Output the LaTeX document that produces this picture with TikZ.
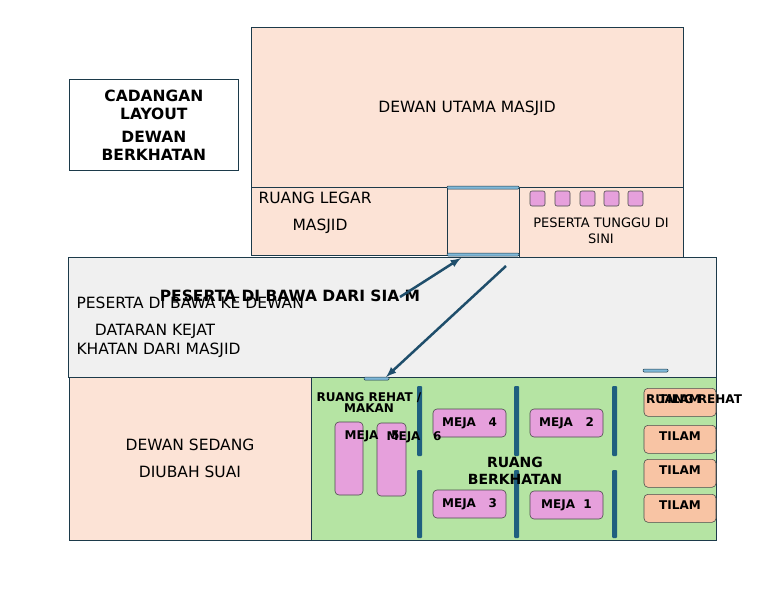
\documentclass[tikz,border=0pt]{standalone}
\usepackage{fontspec}
\setmainfont{DejaVu Sans}
\begin{document}
\begin{tikzpicture}[x=1pt,y=-1pt,
  room/.style={draw=dkb,line width=0.7pt},
  door/.style={draw=dkb,fill=lbl,line width=0.5pt,rounded corners=1pt},
  pillar/.style={fill=pil,draw=none,rounded corners=1pt},
  meja/.style={draw=black!70,fill=mej,rounded corners=4pt,line width=0.6pt},
  tilam/.style={draw=black!70,fill=til,rounded corners=4pt,line width=0.6pt},
  lbl/.style={font=\fontsize{12}{14}\selectfont\bfseries,align=center},
  txt/.style={font=\fontsize{15.5}{18}\selectfont},
  arr/.style={draw=arc,line width=2.5pt,-latex}]
\definecolor{peach}{HTML}{FCE3D6}
\definecolor{grn}{HTML}{B5E4A3}
\definecolor{gry}{HTML}{F0F0F0}
\definecolor{dkb}{HTML}{1C3A4A}
\definecolor{lbl}{HTML}{7FB8D8}
\definecolor{pil}{HTML}{1F5F7F}
\definecolor{mej}{HTML}{E6A0DC}
\definecolor{til}{HTML}{F8C4A4}
\definecolor{arc}{HTML}{1F4E6B}
\useasboundingbox (0,0) rectangle (768,594);
\node[draw=dkb,line width=0.7pt,minimum width=169pt,minimum height=91pt,anchor=north west,align=center,font=\fontsize{15.5}{18}\selectfont\bfseries] (cad) at (69,79) {CADANGAN\\LAYOUT\\[5pt]DEWAN\\BERKHATAN};
\draw[room,fill=peach] (251,27) rectangle (683,187);
\node[txt] (du) at (467,108) {DEWAN UTAMA MASJID};
\draw[room,fill=peach] (251,187) rectangle (447,255);
\draw[room,fill=peach] (447,187) rectangle (519,255);
\draw[room,fill=peach] (519,187) rectangle (683,258);
\node[txt,anchor=west] (rl) at (255,198) {RUANG LEGAR};
\node[txt] (ms) at (320,226) {MASJID};
\node[font=\fontsize{13}{16}\selectfont,align=center] (pt) at (601,231) {PESERTA TUNGGU DI\\SINI};
\foreach \x in {530,555,580,604,628}
  \draw[meja,rounded corners=2pt] (\x,191) rectangle ++(15,15);
\draw[door] (447,186) rectangle (519,189);
\draw[room,fill=gry] (68,257) rectangle (716,377);
\draw[door] (447,253) rectangle (519,256);
\node[txt,anchor=west] (p1) at (73,303) {PESERTA DI BAWA KE DEWAN};
\node[txt] (p2) at (155,331) {DATARAN KEJAT};
\node[txt,anchor=west] (p3) at (73,350) {KHATAN DARI MASJID};
\node[font=\fontsize{15.5}{18}\selectfont\bfseries] (p4) at (290,296) {PESERTA DI BAWA DARI SIA M};
\coordinate (a1s) at (400,297); \coordinate (a1e) at (461,258);
\coordinate (a2s) at (506,266); \coordinate (a2e) at (386,377);
\draw[arr] (a1s) -- (a1e);
\draw[arr] (a2s) -- (a2e);
\draw[room,fill=peach] (69,377) rectangle (311,540);
\draw[room,fill=grn] (311,377) rectangle (716,540);
\draw[door] (364,377) rectangle (389,380);
\draw[door] (643,369) rectangle (668,372);
\node[txt] (ds) at (190,445) {DEWAN SEDANG};
\node[txt] (du2) at (190,472) {DIUBAH SUAI};
\foreach \x in {417,514,612}{
  \fill[pillar] (\x,386) rectangle ++(5,70);
  \fill[pillar] (\x,470) rectangle ++(5,68);}
\node[meja,minimum width=73pt,minimum height=28pt,lbl] (m4) at (469.5,423) {MEJA\ \ \ 4};
\node[meja,minimum width=73pt,minimum height=28pt,lbl] (m2) at (566.5,423) {MEJA\ \ \ 2};
\node[meja,minimum width=73pt,minimum height=28pt,lbl] (m3) at (469.5,504) {MEJA\ \ \ 3};
\node[meja,minimum width=73pt,minimum height=28pt,lbl] (m1) at (566.5,505) {MEJA\ \ 1};
\draw[meja] (335,422) rectangle (363,495);
\draw[meja] (377,423) rectangle (406,496);
\node[lbl] (m5) at (372,436) {MEJA\ \ \ 5};
\node[lbl] (m6) at (414,437) {MEJA\ \ \ 6};
\node[lbl,align=center] (rr) at (369,403) {RUANG REHAT /\\[-3pt]MAKAN};
\node[lbl,font=\fontsize{14}{17}\selectfont\bfseries] (rb) at (515,471) {RUANG\\BERKHATAN};
\foreach \y/\n in {402/t1,439/t2,473/t3,508/t4}{
  \node[tilam,minimum width=72pt,minimum height=28pt,inner sep=0pt,anchor=north] (\n) at (680,\y-14) {};
  \node[lbl] (\n x) at (680,\y-3) {TILAM};}
\node[lbl] (rr2) at (694,399) {RUANG REHAT};
\end{tikzpicture}
\end{document}
